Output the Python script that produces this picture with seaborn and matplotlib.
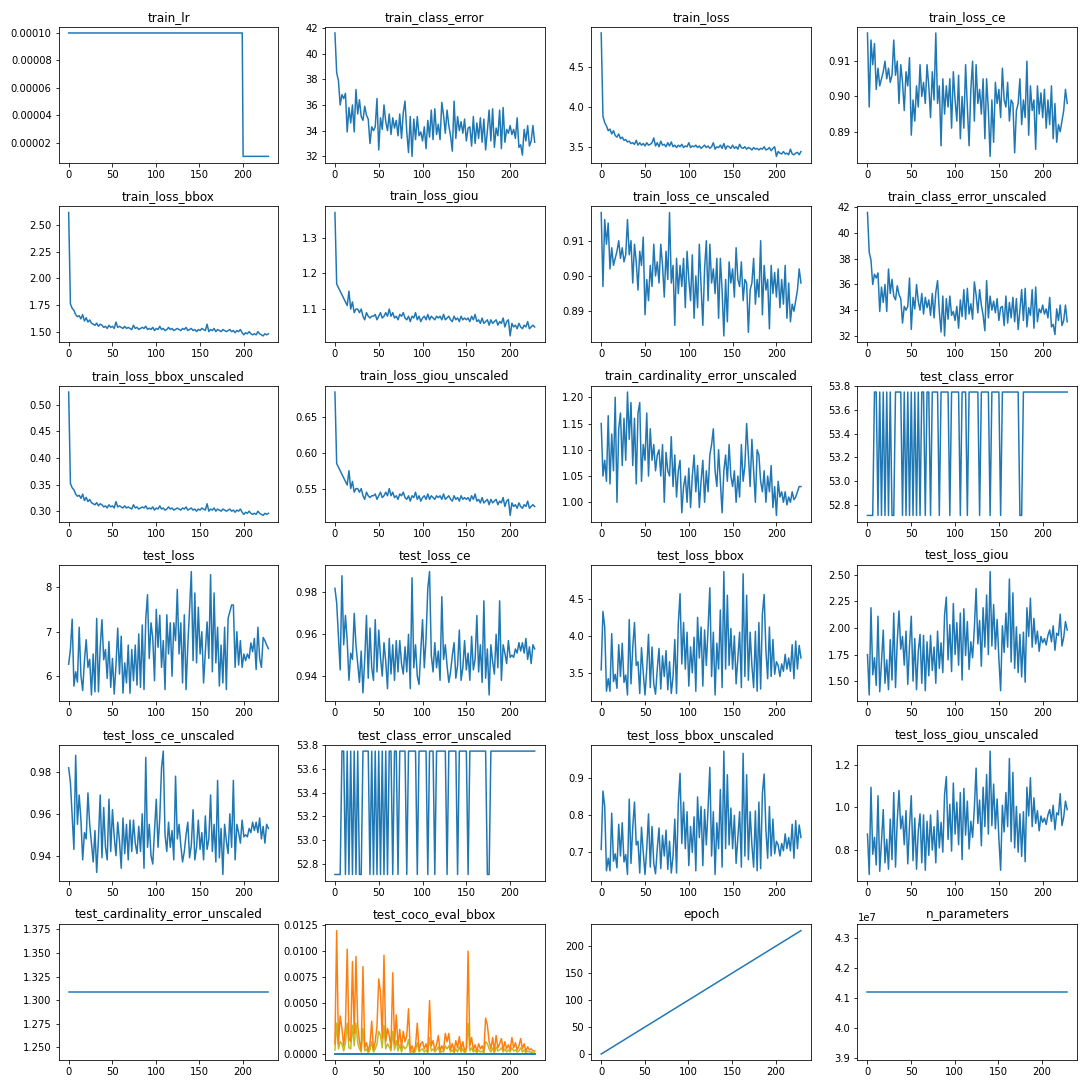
import numpy as np
import matplotlib
matplotlib.use("Agg")
import matplotlib.pyplot as plt
import seaborn as sns


# epochs of the run and the evaluated epochs (every 2nd epoch)
epochs = list(range(230))
ep = list(range(0, 230, 2))

train_lr = [1e-4] * 200 + [1e-5] * 30

train_class_error = [
    41.6, 38.5, 37.9, 36.0, 36.8, 36.5, 36.9, 33.9, 35.8, 34.6, 36.0, 33.9, 37.2, 35.3, 36.4,
    35.1, 34.8, 35.9, 35.2, 34.9, 33.0, 34.3, 34.0, 34.3, 36.5, 32.5, 35.0, 34.1, 36.0, 34.7,
    34.0, 35.3, 33.7, 35.0, 34.2, 34.8, 33.6, 35.3, 33.4, 35.4, 36.3, 33.9, 32.3, 35.1, 32.0,
    34.9, 33.3, 35.1, 33.6, 33.9, 33.2, 34.3, 32.6, 34.8, 33.5, 35.6, 33.3, 35.7, 33.7, 34.5,
    33.3, 36.2, 35.2, 33.8, 35.6, 34.4, 33.6, 32.4, 36.3, 33.4, 35.1, 34.0, 34.7, 33.8, 34.9,
    33.2, 34.2, 34.3, 32.8, 35.1, 33.0, 34.6, 33.4, 35.0, 33.1, 34.9, 32.5, 34.0, 35.6, 33.2,
    35.7, 32.7, 34.2, 33.6, 35.6, 32.6, 35.8, 33.1, 34.1, 33.8, 34.4, 33.7, 34.1, 33.4, 35.0,
    32.7, 32.9, 32.1, 34.1, 33.2, 34.4, 32.8, 33.2, 34.4, 33.1,
]

train_loss = [
    4.92, 3.88, 3.80, 3.76, 3.70, 3.72, 3.66, 3.70, 3.64, 3.62, 3.66, 3.60, 3.62, 3.58, 3.59,
    3.56, 3.57, 3.54, 3.55, 3.53, 3.58, 3.52, 3.55, 3.52, 3.54, 3.51, 3.55, 3.52, 3.53, 3.55,
    3.61, 3.51, 3.55, 3.50, 3.57, 3.52, 3.53, 3.50, 3.55, 3.51, 3.56, 3.50, 3.52, 3.49, 3.52,
    3.50, 3.53, 3.49, 3.51, 3.50, 3.55, 3.49, 3.51, 3.50, 3.52, 3.49, 3.51, 3.48, 3.50, 3.52,
    3.49, 3.51, 3.48, 3.50, 3.55, 3.47, 3.50, 3.49, 3.52, 3.48, 3.54, 3.47, 3.51, 3.50, 3.48,
    3.52, 3.48, 3.50, 3.47, 3.53, 3.49, 3.48, 3.50, 3.47, 3.49, 3.48, 3.46, 3.49, 3.47, 3.48,
    3.46, 3.48, 3.47, 3.50, 3.46, 3.47, 3.49, 3.45, 3.48, 3.50, 3.38, 3.44, 3.42, 3.41, 3.44,
    3.41, 3.42, 3.40, 3.47, 3.41, 3.40, 3.42, 3.43, 3.40, 3.44,
]

train_loss_ce = [
    0.918, 0.897, 0.916, 0.909, 0.915, 0.902, 0.908, 0.903, 0.905, 0.907, 0.910, 0.905, 0.908, 0.904, 0.906,
    0.916, 0.906, 0.910, 0.898, 0.909, 0.904, 0.896, 0.907, 0.903, 0.911, 0.889, 0.899, 0.893, 0.903, 0.897,
    0.909, 0.900, 0.904, 0.898, 0.909, 0.903, 0.894, 0.907, 0.899, 0.918, 0.898, 0.903, 0.886, 0.905, 0.895,
    0.903, 0.897, 0.905, 0.891, 0.907, 0.899, 0.893, 0.906, 0.888, 0.900, 0.891, 0.909, 0.897, 0.886, 0.902,
    0.910, 0.893, 0.909, 0.898, 0.902, 0.895, 0.905, 0.888, 0.905, 0.896, 0.883, 0.899, 0.887, 0.904, 0.898,
    0.902, 0.894, 0.908, 0.899, 0.897, 0.904, 0.893, 0.899, 0.898, 0.884, 0.896, 0.898, 0.905, 0.892, 0.899,
    0.894, 0.910, 0.889, 0.903, 0.896, 0.899, 0.885, 0.903, 0.895, 0.901, 0.894, 0.902, 0.891, 0.899, 0.892,
    0.903, 0.888, 0.898, 0.887, 0.892, 0.890, 0.893, 0.896, 0.902, 0.898,
]

train_loss_bbox = [
    2.62, 1.76, 1.72, 1.70, 1.66, 1.64, 1.65, 1.62, 1.66, 1.60, 1.63, 1.59, 1.61, 1.58, 1.57,
    1.56, 1.58, 1.55, 1.57, 1.56, 1.54, 1.55, 1.53, 1.56, 1.54, 1.55, 1.53, 1.59, 1.54, 1.55,
    1.54, 1.53, 1.55, 1.53, 1.54, 1.53, 1.52, 1.56, 1.53, 1.54, 1.52, 1.53, 1.54, 1.53, 1.55,
    1.52, 1.53, 1.52, 1.54, 1.51, 1.53, 1.52, 1.55, 1.52, 1.53, 1.51, 1.52, 1.54, 1.52, 1.53,
    1.51, 1.52, 1.53, 1.52, 1.51, 1.53, 1.52, 1.54, 1.51, 1.52, 1.53, 1.51, 1.52, 1.50, 1.52,
    1.51, 1.53, 1.52, 1.51, 1.57, 1.50, 1.52, 1.51, 1.53, 1.50, 1.52, 1.51, 1.50, 1.52, 1.51,
    1.50, 1.51, 1.52, 1.50, 1.51, 1.49, 1.51, 1.50, 1.52, 1.49, 1.47, 1.49, 1.48, 1.50, 1.48,
    1.47, 1.48, 1.47, 1.50, 1.48, 1.47, 1.46, 1.48, 1.47, 1.48,
]

train_loss_giou = [
    1.37, 1.17, 1.16, 1.15, 1.14, 1.13, 1.12, 1.11, 1.15, 1.10, 1.12, 1.09, 1.10, 1.10, 1.09,
    1.10, 1.08, 1.07, 1.09, 1.08, 1.075, 1.08, 1.08, 1.085, 1.07, 1.08, 1.09, 1.075, 1.08, 1.09,
    1.08, 1.10, 1.08, 1.09, 1.075, 1.08, 1.07, 1.085, 1.08, 1.09, 1.075, 1.07, 1.08, 1.065, 1.08,
    1.075, 1.09, 1.07, 1.08, 1.065, 1.075, 1.08, 1.07, 1.085, 1.07, 1.08, 1.075, 1.07, 1.08, 1.075,
    1.08, 1.07, 1.085, 1.07, 1.075, 1.08, 1.07, 1.065, 1.08, 1.07, 1.075, 1.065, 1.08, 1.07, 1.075,
    1.07, 1.075, 1.065, 1.08, 1.07, 1.085, 1.065, 1.07, 1.06, 1.075, 1.06, 1.065, 1.07, 1.055, 1.07,
    1.06, 1.065, 1.07, 1.055, 1.065, 1.06, 1.075, 1.05, 1.065, 1.07, 1.025, 1.06, 1.05, 1.055, 1.045,
    1.06, 1.05, 1.045, 1.055, 1.05, 1.065, 1.045, 1.05, 1.055, 1.05,
]

train_cardinality_error = [
    1.15, 1.05, 1.08, 1.04, 1.165, 1.035, 1.13, 1.06, 1.20, 1.00, 1.14, 1.17, 1.07, 1.16, 1.08,
    1.21, 1.12, 1.19, 1.07, 1.16, 1.035, 1.17, 1.19, 1.04, 1.11, 1.08, 1.17, 1.05, 1.14, 1.08,
    1.11, 1.06, 1.09, 1.10, 1.05, 1.11, 1.00, 1.095, 1.06, 1.05, 1.125, 1.03, 1.09, 1.01, 1.06,
    1.08, 0.98, 1.03, 1.05, 1.00, 1.065, 0.99, 1.05, 1.09, 1.02, 1.07, 0.99, 1.04, 1.08, 1.00,
    1.06, 1.02, 1.09, 1.11, 1.14, 1.06, 1.03, 1.10, 1.04, 0.98, 1.06, 1.09, 1.04, 1.11, 1.05,
    1.03, 1.06, 1.00, 1.05, 1.01, 1.11, 1.04, 1.07, 1.15, 1.09, 1.03, 1.12, 1.06, 1.00, 1.10,
    1.09, 1.04, 1.02, 1.06, 1.00, 1.05, 1.02, 1.07, 0.99, 1.03, 0.975, 1.04, 1.01, 1.02, 1.00,
    1.02, 0.995, 1.01, 1.00, 1.02, 1.005, 1.01, 1.02, 1.03, 1.03,
]

test_class_error = [
    52.71, 52.71, 52.71, 52.71, 53.75, 53.75, 52.71, 53.75, 52.71, 53.75, 52.71, 53.75, 52.71, 53.75, 52.71,
    52.71, 53.75, 53.75, 53.75, 53.75, 52.71, 53.75, 52.71, 53.75, 52.71, 53.75, 52.71, 53.75, 52.71, 53.75,
    52.71, 53.75, 53.75, 52.71, 53.75, 53.75, 52.71, 53.75, 53.75, 53.75, 53.75, 52.71, 53.75, 53.75, 53.75,
    53.75, 53.75, 52.71, 53.75, 53.75, 53.75, 53.75, 53.75, 52.71, 53.75, 53.75, 53.75, 52.71, 53.75, 53.75,
    53.75, 53.75, 53.75, 53.75, 52.71, 53.75, 53.75, 53.75, 53.75, 53.75, 52.71, 53.75, 53.75, 53.75, 53.75,
    53.75, 52.71, 53.75, 53.75, 53.75, 53.75, 53.75, 53.75, 53.75, 53.75, 53.75, 53.75, 52.71, 52.71, 53.75,
    53.75, 53.75, 53.75, 53.75, 53.75, 53.75, 53.75, 53.75, 53.75, 53.75, 53.75, 53.75, 53.75, 53.75, 53.75,
    53.75, 53.75, 53.75, 53.75, 53.75, 53.75, 53.75, 53.75, 53.75, 53.75,
]

test_loss = [
    6.27, 6.60, 7.28, 5.78, 6.10, 5.87, 7.10, 6.02, 5.68, 6.35, 6.82, 6.20, 6.38, 5.58, 6.50,
    5.65, 7.30, 5.65, 6.65, 7.27, 6.37, 6.60, 5.95, 6.78, 5.75, 6.40, 5.60, 6.25, 7.08, 6.05,
    6.90, 5.62, 6.30, 5.85, 6.70, 5.62, 6.60, 5.90, 6.70, 5.80, 6.95, 5.75, 7.15, 5.70, 7.28,
    7.83, 6.40, 7.20, 6.85, 5.90, 7.50, 6.65, 7.37, 6.20, 6.80, 5.70, 7.38, 6.50, 7.20, 6.00,
    7.20, 6.80, 7.95, 6.50, 7.20, 5.85, 7.38, 5.70, 6.70, 7.50, 8.35, 6.35, 7.87, 6.30, 7.55,
    6.50, 7.00, 5.85, 6.55, 7.22, 6.40, 8.28, 6.10, 7.87, 6.30, 7.10, 5.78, 6.70, 5.85, 7.10,
    5.70, 7.30, 7.45, 7.60, 7.60, 6.20, 7.00, 6.25, 6.80, 6.20, 6.50, 6.35, 6.50, 6.40, 6.75,
    6.55, 6.85, 6.15, 7.10, 6.40, 6.20, 6.87, 6.80, 6.70, 6.62,
]

test_loss_ce = [
    0.982, 0.975, 0.959, 0.943, 0.988, 0.955, 0.969, 0.957, 0.938, 0.951, 0.948, 0.970, 0.955, 0.946, 0.937,
    0.952, 0.932, 0.948, 0.969, 0.939, 0.963, 0.944, 0.938, 0.967, 0.942, 0.962, 0.949, 0.940, 0.956, 0.947,
    0.934, 0.958, 0.941, 0.955, 0.938, 0.957, 0.942, 0.957, 0.946, 0.941, 0.954, 0.942, 0.960, 0.934, 0.987,
    0.944, 0.955, 0.940, 0.936, 0.952, 0.967, 0.944, 0.958, 0.982, 0.990, 0.950, 0.942, 0.956, 0.944, 0.952,
    0.938, 0.978, 0.948, 0.955, 0.945, 0.937, 0.942, 0.950, 0.956, 0.939, 0.945, 0.962, 0.938, 0.944, 0.957,
    0.943, 0.951, 0.938, 0.959, 0.943, 0.948, 0.969, 0.942, 0.955, 0.937, 0.976, 0.939, 0.953, 0.931, 0.955,
    0.947, 0.941, 0.960, 0.944, 0.976, 0.938, 0.955, 0.951, 0.946, 0.957, 0.949, 0.950, 0.949, 0.953, 0.951,
    0.956, 0.952, 0.956, 0.951, 0.958, 0.948, 0.954, 0.946, 0.955, 0.953,
]

test_loss_bbox = [
    3.54, 4.33, 4.12, 3.25, 3.42, 3.25, 4.03, 3.38, 3.48, 3.29, 3.88, 3.45, 3.90, 3.37, 3.47,
    3.20, 4.22, 3.35, 3.84, 4.18, 3.60, 3.65, 3.22, 3.84, 3.50, 3.20, 3.55, 4.02, 3.30, 3.85,
    3.35, 3.21, 3.55, 3.83, 3.28, 3.73, 3.45, 3.80, 3.27, 3.65, 3.22, 3.45, 3.95, 3.22, 4.16,
    4.57, 3.62, 4.18, 3.55, 4.05, 3.32, 3.85, 3.50, 3.98, 3.25, 4.25, 3.70, 4.12, 3.32, 4.08,
    3.60, 4.10, 4.65, 3.45, 4.05, 3.20, 3.90, 3.55, 4.35, 3.30, 4.87, 3.55, 4.55, 3.60, 4.10,
    3.55, 4.00, 3.35, 3.70, 4.05, 3.30, 4.84, 3.45, 4.55, 3.40, 4.05, 3.60, 3.30, 4.06, 3.25,
    4.18, 3.28, 4.30, 4.56, 3.80, 3.42, 4.12, 3.45, 3.95, 3.48, 3.65, 3.60, 3.45, 3.62, 3.52,
    3.75, 3.55, 3.70, 3.52, 3.88, 3.42, 3.93, 3.55, 3.87, 3.70,
]

test_loss_giou = [
    1.75, 1.37, 2.19, 1.56, 1.72, 1.46, 2.11, 1.40, 1.68, 1.98, 1.48, 1.70, 1.42, 1.89, 1.51,
    2.14, 1.44, 1.88, 2.16, 1.80, 1.92, 1.65, 1.97, 1.47, 1.83, 2.11, 1.50, 1.90, 1.42, 1.78,
    1.94, 1.48, 1.93, 1.41, 1.87, 1.55, 1.93, 1.60, 1.82, 1.48, 1.97, 1.62, 1.86, 1.58, 2.12,
    2.29, 1.70, 2.03, 1.59, 2.23, 1.75, 2.05, 1.65, 2.14, 1.51, 2.18, 1.74, 2.06, 1.61, 1.87,
    1.72, 2.00, 2.37, 1.85, 2.07, 1.64, 2.19, 1.82, 2.31, 1.75, 2.53, 1.83, 2.22, 1.80, 2.08,
    1.71, 1.41, 2.02, 1.77, 2.14, 1.82, 2.46, 1.68, 2.33, 1.62, 2.01, 1.58, 1.94, 1.54, 1.96,
    1.49, 2.19, 1.92, 2.28, 1.82, 2.09, 1.85, 1.97, 1.78, 1.92, 1.86, 1.90, 1.84, 1.93, 1.98,
    1.87, 2.02, 1.79, 1.95, 1.93, 2.13, 1.83, 1.91, 2.06, 1.98,
]

test_cardinality_error = [1.3083] * 230

# coco eval stats: only the large recall ones leave the zero line
coco_ar_large = [
    0.0010, 0.0120, 0.0010, 0.0037, 0.0025, 0.0008, 0.0027, 0.0102, 0.0015, 0.0012, 0.0090, 0.0020, 0.0095, 0.0028, 0.0012,
    0.0004, 0.0085, 0.0006, 0.0011, 0.0003, 0.0010, 0.0032, 0.0004, 0.0012, 0.0027, 0.0073, 0.0060, 0.0015, 0.0096, 0.0012,
    0.0025, 0.0018, 0.0006, 0.0079, 0.0010, 0.0038, 0.0008, 0.0024, 0.0006, 0.0022, 0.0012, 0.0018, 0.0044, 0.0003, 0.0008,
    0.0002, 0.0008, 0.0030, 0.0004, 0.0010, 0.0012, 0.0005, 0.0010, 0.0003, 0.0052, 0.0008, 0.0013, 0.0004, 0.0009, 0.0018,
    0.0003, 0.0008, 0.0004, 0.0020, 0.0012, 0.0020, 0.0004, 0.0010, 0.0003, 0.0013, 0.0006, 0.0017, 0.0004, 0.0012, 0.0003,
    0.0006, 0.0100, 0.0008, 0.0016, 0.0004, 0.0009, 0.0003, 0.0010, 0.0005, 0.0008, 0.0003, 0.0035, 0.0028, 0.0012, 0.0005,
    0.0016, 0.0003, 0.0018, 0.0006, 0.0010, 0.0015, 0.0004, 0.0012, 0.0005, 0.0009, 0.0004, 0.0016, 0.0006, 0.0011, 0.0004,
    0.0008, 0.0015, 0.0005, 0.0010, 0.0003, 0.0007, 0.0004, 0.0005, 0.0003, 0.0003,
]
coco_ar_100 = [
    0.0004, 0.0030, 0.0005, 0.0012, 0.0010, 0.0003, 0.0011, 0.0030, 0.0006, 0.0005, 0.0028, 0.0008, 0.0030, 0.0011, 0.0005,
    0.0002, 0.0025, 0.0003, 0.0005, 0.0001, 0.0004, 0.0012, 0.0002, 0.0005, 0.0010, 0.0022, 0.0018, 0.0006, 0.0028, 0.0005,
    0.0010, 0.0007, 0.0003, 0.0022, 0.0004, 0.0013, 0.0003, 0.0009, 0.0002, 0.0008, 0.0005, 0.0007, 0.0014, 0.0001, 0.0003,
    0.0001, 0.0003, 0.0011, 0.0002, 0.0004, 0.0005, 0.0002, 0.0004, 0.0001, 0.0016, 0.0003, 0.0005, 0.0002, 0.0004, 0.0007,
    0.0001, 0.0003, 0.0002, 0.0008, 0.0005, 0.0008, 0.0002, 0.0004, 0.0001, 0.0005, 0.0002, 0.0007, 0.0002, 0.0005, 0.0001,
    0.0003, 0.0030, 0.0003, 0.0006, 0.0002, 0.0004, 0.0001, 0.0004, 0.0002, 0.0003, 0.0001, 0.0012, 0.0010, 0.0005, 0.0002,
    0.0006, 0.0001, 0.0007, 0.0003, 0.0004, 0.0006, 0.0002, 0.0005, 0.0002, 0.0004, 0.0002, 0.0006, 0.0003, 0.0004, 0.0002,
    0.0003, 0.0006, 0.0002, 0.0004, 0.0001, 0.0003, 0.0002, 0.0002, 0.0001, 0.0001,
]
coco_zero = [0.0] * 115
coco_names = ["AP", "AP50", "AP75", "APs", "APm", "APl", "AR1", "AR10", "AR100", "ARs", "ARm", "ARl"]

n_parameters = [41.2e6] * 230

BBOX_COEF = 5
GIOU_COEF = 2

coco_stats = {name: coco_zero for name in coco_names}
coco_stats["AR100"] = coco_ar_100
coco_stats["ARl"] = coco_ar_large

panels = [
    ("train_lr", epochs, train_lr),
    ("train_class_error", ep, train_class_error),
    ("train_loss", ep, train_loss),
    ("train_loss_ce", ep, train_loss_ce),
    ("train_loss_bbox", ep, train_loss_bbox),
    ("train_loss_giou", ep, train_loss_giou),
    ("train_loss_ce_unscaled", ep, train_loss_ce),
    ("train_class_error_unscaled", ep, train_class_error),
    ("train_loss_bbox_unscaled", ep, np.array(train_loss_bbox) / BBOX_COEF),
    ("train_loss_giou_unscaled", ep, np.array(train_loss_giou) / GIOU_COEF),
    ("train_cardinality_error_unscaled", ep, train_cardinality_error),
    ("test_class_error", ep, test_class_error),
    ("test_loss", ep, test_loss),
    ("test_loss_ce", ep, test_loss_ce),
    ("test_loss_bbox", ep, test_loss_bbox),
    ("test_loss_giou", ep, test_loss_giou),
    ("test_loss_ce_unscaled", ep, test_loss_ce),
    ("test_class_error_unscaled", ep, test_class_error),
    ("test_loss_bbox_unscaled", ep, np.array(test_loss_bbox) / BBOX_COEF),
    ("test_loss_giou_unscaled", ep, np.array(test_loss_giou) / GIOU_COEF),
    ("test_cardinality_error_unscaled", epochs, test_cardinality_error),
    ("test_coco_eval_bbox", ep, None),
    ("epoch", epochs, epochs),
    ("n_parameters", epochs, n_parameters),
]

plt.rcParams["font.family"] = ["DejaVu Sans"]
fig, axes = plt.subplots(6, 4, figsize=(1088 / 72, 1088 / 72), dpi=72)

for ax, (title, x, y) in zip(axes.flat, panels):
    if y is None:
        for k, name in enumerate(coco_names):
            sns.lineplot(x=x, y=coco_stats[name], ax=ax, color=f"C{k % 10}", linewidth=1.5)
    else:
        sns.lineplot(x=x, y=y, ax=ax, color="C0", linewidth=1.5)
    ax.set_title(title, fontsize=12)
    ax.set_xticks([0, 50, 100, 150, 200])
    ax.tick_params(labelsize=10)

plt.tight_layout()
plt.savefig("out.png", dpi=72)
